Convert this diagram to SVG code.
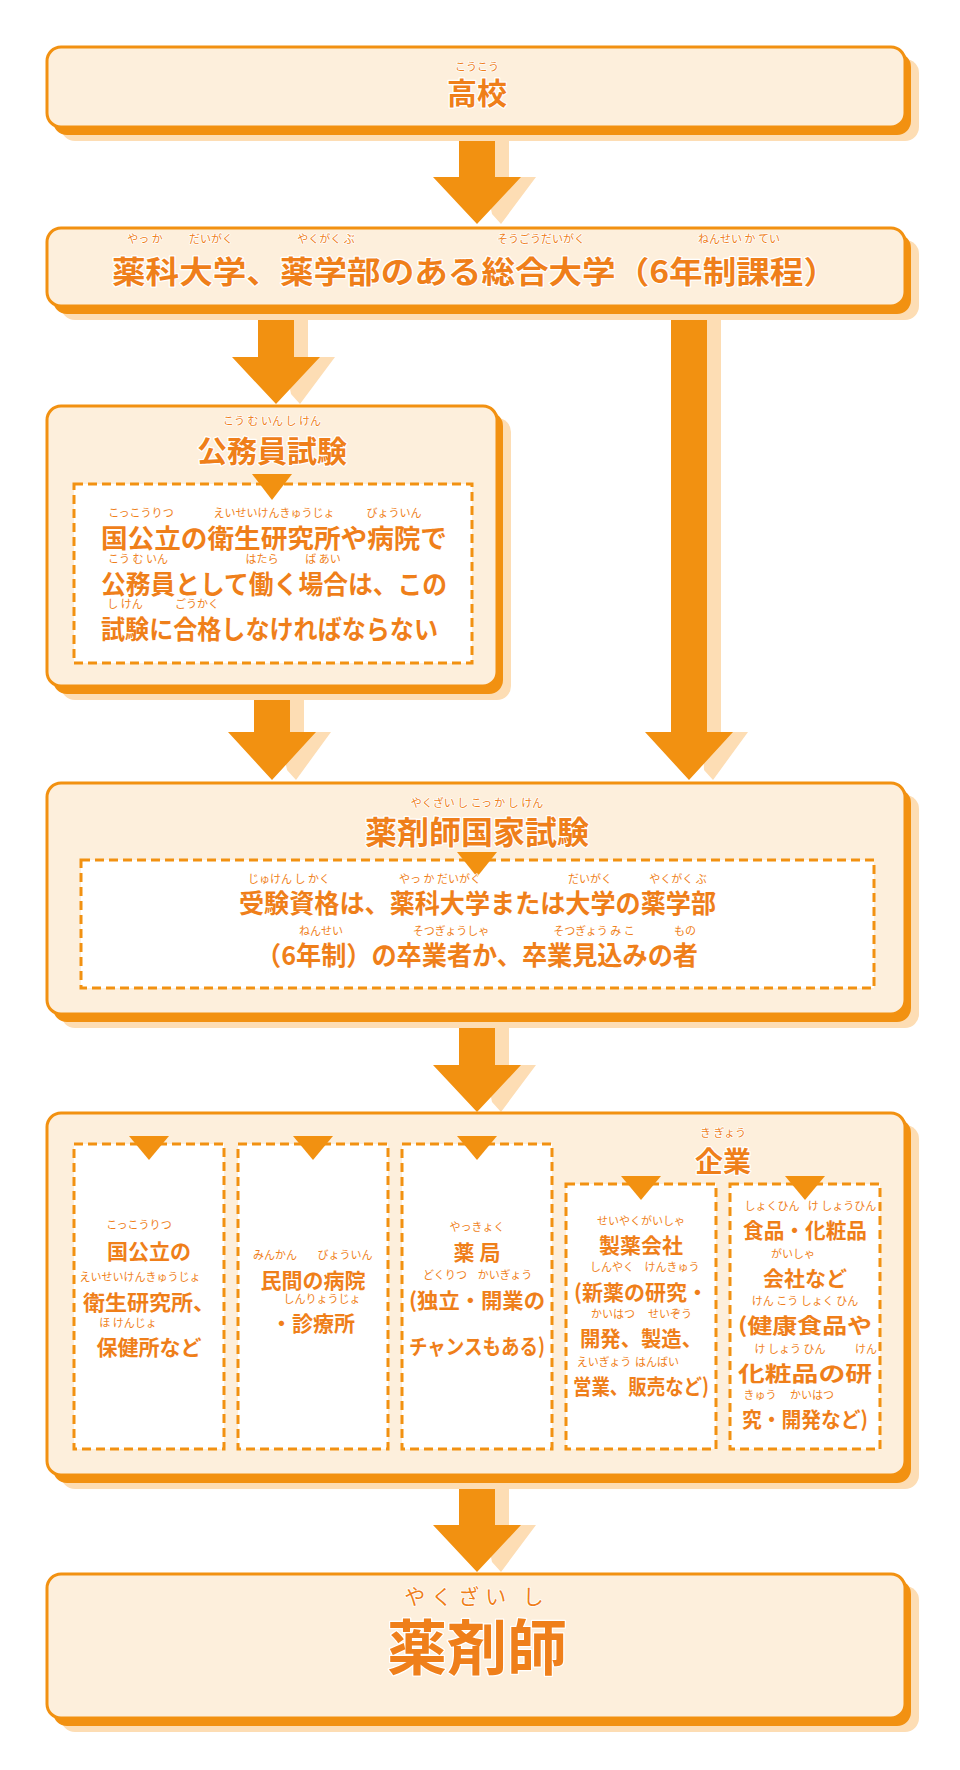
<svg xmlns="http://www.w3.org/2000/svg" width="960" height="1770" viewBox="0 0 960 1770">
<style>
.sh{fill:#FDDDB4}
.dk{fill:#F29111}
.bx{fill:#FDEFDC;stroke:#F29111;stroke-width:3}
.ds{fill:#fff;stroke:#F29111;stroke-width:3;stroke-dasharray:9 5}
.ar{fill:#F29111}
.as{fill:#FDDDB4}
text{font-family:"Noto Sans CJK JP","Noto Sans",sans-serif;font-weight:bold;fill:#EF7F1A;stroke:#fff;stroke-width:2.5;paint-order:stroke;stroke-linejoin:round;text-anchor:middle}
.r{font-size:11px;stroke-width:1.5;font-weight:normal;transform:translateY(-3px)}
.m{font-size:26px}
.c{font-size:21px}
.s{text-anchor:start}
</style>
<rect width="960" height="1770" fill="#fff"/>
<g id="connectors">
<polygon class="as" points="509,129 509,177 536,177 501,224 492,214 475,129"/>
<polygon class="ar" points="459,129 495,129 495,177 521,177 477,224 433,177 459,177"/>
<polygon class="as" points="308,308 308,357 335,357 300,404 291,394 274,308"/>
<polygon class="ar" points="258,308 294,308 294,357 320,357 276,404 232,357 258,357"/>
<polygon class="as" points="721,308 721,732 748,732 713,780 704,770 687,308"/>
<polygon class="ar" points="671,308 707,308 707,732 733,732 689,780 645,732 671,732"/>
<polygon class="as" points="304,687 304,732 331,732 296,780 287,770 270,687"/>
<polygon class="ar" points="254,687 290,687 290,732 316,732 272,780 228,732 254,732"/>
<polygon class="as" points="509,1016 509,1065 536,1065 501,1112 492,1102 475,1016"/>
<polygon class="ar" points="459,1016 495,1016 495,1065 521,1065 477,1112 433,1065 459,1065"/>
<polygon class="as" points="509,1477 509,1525 536,1525 501,1572 492,1562 475,1477"/>
<polygon class="ar" points="459,1477 495,1477 495,1525 521,1525 477,1572 433,1525 459,1525"/>
</g>
<g id="koukou">
<rect class="sh" x="61" y="59" width="858" height="82" rx="14"/>
<rect class="dk" x="53" y="53" width="858" height="82" rx="14"/>
<rect class="bx" x="47" y="47" width="858" height="80" rx="14"/>
<text class="r" x="477" y="74">こうこう</text>
<text x="477" y="104" font-size="30">高校</text>
</g>
<g id="daigaku">
<rect class="sh" x="61" y="240" width="858" height="80" rx="14"/>
<rect class="dk" x="53" y="234" width="858" height="80" rx="14"/>
<rect class="bx" x="47" y="228" width="858" height="78" rx="14"/>
<text class="r" x="145" y="246">やっ か</text>
<text class="r" x="211" y="246">だいがく</text>
<text class="r" x="326" y="246">やくがく ぶ</text>
<text class="r" x="541" y="246">そうごうだいがく</text>
<text class="r" x="739" y="246">ねんせい か てい</text>
<text class="s" x="112" y="283" font-size="31" textLength="725" lengthAdjust="spacingAndGlyphs">薬科大学、薬学部のある総合大学（6年制課程）</text>
</g>
<g id="koumuin">
<rect class="sh" x="61" y="418" width="450" height="282" rx="14"/>
<rect class="dk" x="53" y="412" width="450" height="282" rx="14"/>
<rect class="bx" x="47" y="406" width="450" height="280" rx="14"/>
<text class="r" x="272" y="428">こう む いん し けん</text>
<text x="272" y="462" font-size="30">公務員試験</text>
<rect class="ds" x="74" y="484" width="398" height="179"/>
<polygon class="ar" points="252,474 292,474 272,500"/>
<text class="r" x="141" y="520">こっこうりつ</text>
<text class="r" x="274" y="520">えいせいけんきゅうじょ</text>
<text class="r" x="394" y="520">びょういん</text>
<text class="m s" x="101" y="548" textLength="346" lengthAdjust="spacingAndGlyphs">国公立の衛生研究所や病院で</text>
<text class="r" x="138" y="566">こう む いん</text>
<text class="r" x="262" y="566">はたら</text>
<text class="r" x="323" y="566">ば あい</text>
<text class="m s" x="101" y="594" textLength="346" lengthAdjust="spacingAndGlyphs">公務員として働く場合は、この</text>
<text class="r" x="125" y="611">し けん</text>
<text class="r" x="197" y="611">ごうかく</text>
<text class="m s" x="101" y="639" textLength="337" lengthAdjust="spacingAndGlyphs">試験に合格しなければならない</text>
</g>
<g id="kokka">
<rect class="sh" x="61" y="795" width="858" height="233" rx="14"/>
<rect class="dk" x="53" y="789" width="858" height="233" rx="14"/>
<rect class="bx" x="47" y="783" width="858" height="231" rx="14"/>
<text class="r" x="477" y="810">やくざい し こっ か  し けん</text>
<text x="477" y="844" font-size="32">薬剤師国家試験</text>
<rect class="ds" x="81" y="860" width="793" height="128"/>
<polygon class="ar" points="457,852 497,852 477,877"/>
<text class="r" x="289" y="886">じゅけん し かく</text>
<text class="r" x="440" y="886">やっ か だいがく</text>
<text class="r" x="590" y="886">だいがく</text>
<text class="r" x="678" y="886">やくがく ぶ</text>
<text class="m s" x="239" y="913" textLength="477" lengthAdjust="spacingAndGlyphs">受験資格は、薬科大学または大学の薬学部</text>
<text class="r" x="321" y="938">ねんせい</text>
<text class="r" x="451" y="938">そつぎょうしゃ</text>
<text class="r" x="594" y="938">そつぎょう み  こ</text>
<text class="r" x="685" y="938">もの</text>
<text class="m s" x="256" y="965" textLength="442" lengthAdjust="spacingAndGlyphs">（6年制）の卒業者か、卒業見込みの者</text>
</g>
<g id="shinro">
<rect class="sh" x="61" y="1125" width="858" height="364" rx="14"/>
<rect class="dk" x="53" y="1119" width="858" height="364" rx="14"/>
<rect class="bx" x="47" y="1113" width="858" height="362" rx="14"/>
<rect class="ds" x="74" y="1144" width="150" height="305"/>
<rect class="ds" x="238" y="1144" width="150" height="305"/>
<rect class="ds" x="402" y="1144" width="150" height="305"/>
<rect class="ds" x="566" y="1184" width="150" height="265"/>
<rect class="ds" x="730" y="1184" width="150" height="265"/>
<polygon class="ar" points="129,1136 169,1136 149,1160"/>
<polygon class="ar" points="293,1136 333,1136 313,1160"/>
<polygon class="ar" points="457,1136 497,1136 477,1160"/>
<polygon class="ar" points="621,1176 661,1176 641,1200"/>
<polygon class="ar" points="785,1176 825,1176 805,1200"/>
<text class="r" x="723" y="1140">き ぎょう</text>
<text x="723" y="1172" font-size="28">企業</text>
<text class="r" x="139" y="1232">こっこうりつ</text>
<text class="c" x="149" y="1259">国公立の</text>
<text class="r" x="140" y="1284">えいせいけんきゅうじょ</text>
<text class="c" x="149" y="1310" textLength="132" lengthAdjust="spacingAndGlyphs">衛生研究所、</text>
<text class="r" x="128" y="1330">ほ けんじょ</text>
<text class="c" x="149" y="1355">保健所など</text>
<text class="r" x="275" y="1262">みんかん</text>
<text class="r" x="345" y="1262">びょういん</text>
<text class="c" x="313" y="1288">民間の病院</text>
<text class="r" x="322" y="1306">しんりょうじょ</text>
<text class="c" x="313" y="1331">・診療所</text>
<text class="r" x="477" y="1234">やっきょく</text>
<text class="c" x="477" y="1260">薬 局</text>
<text class="r" x="445" y="1282">どくりつ</text>
<text class="r" x="505" y="1282">かいぎょう</text>
<text class="c" x="477" y="1308" textLength="136" lengthAdjust="spacingAndGlyphs">(独立・開業の</text>
<text class="c" x="477" y="1354" textLength="136" lengthAdjust="spacingAndGlyphs">チャンスもある)</text>
<text class="r" x="641" y="1228">せいやくがいしゃ</text>
<text class="c" x="641" y="1253">製薬会社</text>
<text class="r" x="612" y="1274">しんやく</text>
<text class="r" x="672" y="1274">けんきゅう</text>
<text class="c" x="641" y="1300" textLength="134" lengthAdjust="spacingAndGlyphs">(新薬の研究・</text>
<text class="r" x="613" y="1321">かいはつ</text>
<text class="r" x="670" y="1321">せいぞう</text>
<text class="c" x="641" y="1346" textLength="122" lengthAdjust="spacingAndGlyphs">開発、製造、</text>
<text class="r" x="604" y="1369">えいぎょう</text>
<text class="r" x="657" y="1369">はんばい</text>
<text class="c" x="641" y="1394" textLength="136" lengthAdjust="spacingAndGlyphs">営業、販売など)</text>
<text class="r" x="772" y="1213">しょくひん</text>
<text class="r" x="842" y="1213">け しょうひん</text>
<text class="c" x="805" y="1238" textLength="124" lengthAdjust="spacingAndGlyphs">食品・化粧品</text>
<text class="r" x="793" y="1261">がいしゃ</text>
<text class="c" x="805" y="1286">会社など</text>
<text class="r" x="805" y="1308">けん こう しょく ひん</text>
<text class="c" x="805" y="1333" textLength="134" lengthAdjust="spacingAndGlyphs">(健康食品や</text>
<text class="r" x="790" y="1356">け しょう ひん</text>
<text class="r" x="866" y="1356">けん</text>
<text class="c" x="805" y="1381" textLength="134" lengthAdjust="spacingAndGlyphs">化粧品の研</text>
<text class="r" x="760" y="1402">きゅう</text>
<text class="r" x="812" y="1402">かいはつ</text>
<text class="c" x="805" y="1427" textLength="126" lengthAdjust="spacingAndGlyphs">究・開発など)</text>
</g>
<g id="yakuzaishi">
<rect class="sh" x="61" y="1586" width="858" height="146" rx="14"/>
<rect class="dk" x="53" y="1580" width="858" height="146" rx="14"/>
<rect class="bx" x="47" y="1574" width="858" height="144" rx="14"/>
<text x="477" y="1604" font-size="21" style="font-weight:normal;stroke-width:1.5" letter-spacing="6">やくざい し</text>
<text x="477" y="1670" font-size="60">薬剤師</text>
</g>
</svg>
